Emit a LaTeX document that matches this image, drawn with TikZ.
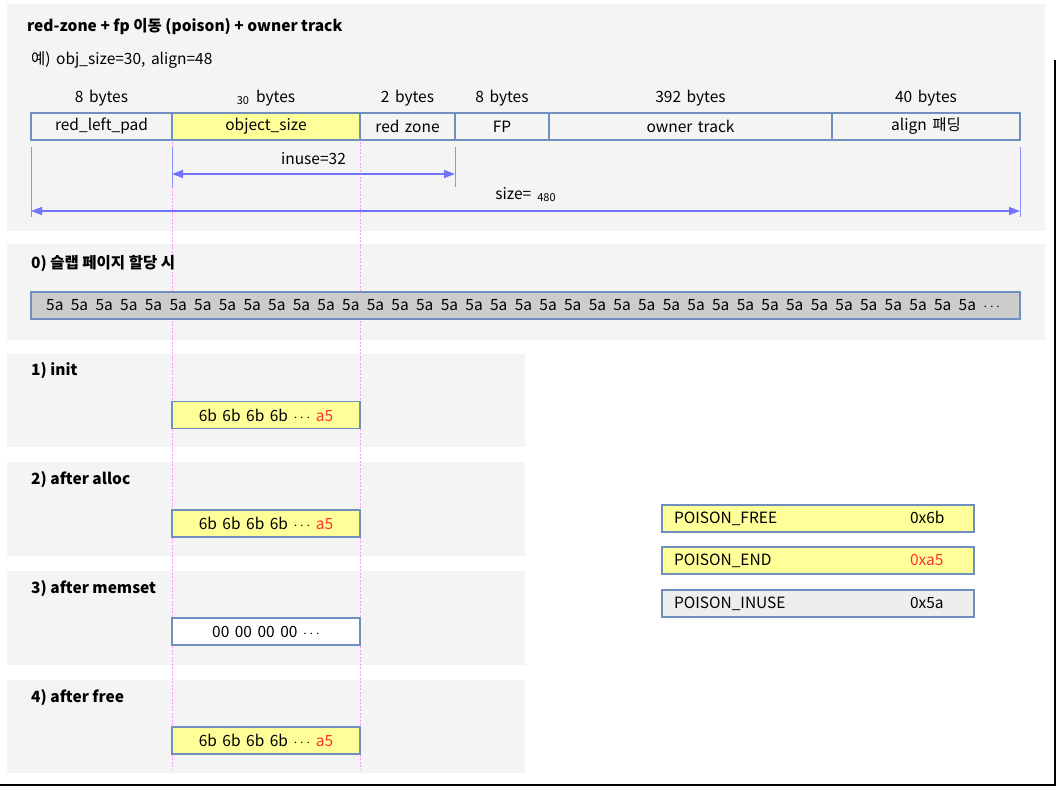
\documentclass[tikz,border=0pt]{standalone}
\usepackage{fontspec}
\setmainfont{Noto Sans CJK KR}
\usetikzlibrary{arrows.meta,positioning}

\definecolor{panelgray}{HTML}{F4F4F4}
\definecolor{cellblue}{HTML}{6F8FBF}
\definecolor{poisonyel}{HTML}{FFFF99}
\definecolor{bargray}{HTML}{CCCCCC}
\definecolor{legendgray}{HTML}{EEEEEE}
\definecolor{dimblue}{HTML}{7373FF}
\definecolor{guidepink}{HTML}{FF99FF}
\definecolor{endred}{HTML}{FF3333}

\newcommand{\mdots}{\ensuremath{\cdots}}
\newcommand{\widespace}{\spaceskip=5.5pt plus 1pt minus 1pt\relax}

\tikzset{
	cell/.style={draw=cellblue,line width=1.3pt,minimum height=27pt,inner sep=0pt,outer sep=0pt,font=\fontsize{15.5}{17}\selectfont\widespace},
	headline/.style={anchor=west,inner sep=0pt,font=\bfseries\fontsize{15.5}{18}\selectfont},
	plain/.style={inner sep=0pt,text=black,font=\fontsize{15.5}{17}\selectfont\widespace},
	ext/.style={dimblue!80,line width=0.9pt},
	dim/.style={dimblue,line width=1.4pt,{Triangle[length=11pt,width=8pt]}-{Triangle[length=11pt,width=8pt]}},
	guide/.style={guidepink,line width=0.8pt,dash pattern=on 2pt off 1.5pt},
	legend/.style={cell,anchor=west,minimum width=312pt,text width=288pt,align=left,inner xsep=12pt},
}

\begin{document}
\begin{tikzpicture}[x=1pt,y=-1pt]
	\useasboundingbox (0,0) rectangle (1056,786);
	
	% background panels
	\fill[panelgray](7,4)rectangle(1045,231);
	\fill[panelgray](7,244)rectangle(1045,340);
	\fill[panelgray](7,354)rectangle(525,447);
	\fill[panelgray](7,462)rectangle(525,556);
	\fill[panelgray](7,571)rectangle(525,665);
	\fill[panelgray](7,680)rectangle(525,773);
	
	% layout of one object
	\node[headline] (ttl) at (27,27) {red-zone + fp 이동 (poison) + owner track};
	\node[plain,anchor=west] (ex) at (31,60) {예) obj\_size=30, align=48};
	
	\node[cell,minimum width=141pt] (pad) at (101.5,126.5) {red\_left\_pad};
	\node[cell,fill=poisonyel,minimum width=188pt,right=0pt of pad] (obj) {object\_size};
	\node[cell,minimum width=95pt,right=0pt of obj] (rz) {red zone};
	\node[cell,minimum width=94pt,right=0pt of rz] (fp) {FP};
	\node[cell,minimum width=283pt,right=0pt of fp] (own) {owner track};
	\node[cell,minimum width=188pt,right=0pt of own] (aln) {align 패딩};
	
	\node[plain] (padb) at ([yshift=28pt]pad.center) {8 bytes};
	\node[plain] (objb) at ([yshift=28pt]obj.center) {{\fontsize{11}{12}\selectfont\raisebox{-2pt}{30}}\hspace{7pt}bytes};
	\node[plain] (rzb) at ([yshift=28pt]rz.center) {2 bytes};
	\node[plain] (fpb) at ([yshift=28pt]fp.center) {8 bytes};
	\node[plain] (ownb) at ([yshift=28pt]own.center) {392 bytes};
	\node[plain] (alnb) at ([yshift=28pt]aln.center) {40 bytes};
	
	% pink guides through object_size
	\draw[guide]([yshift=-2pt]obj.south west)--(obj.west|-0,770);
	\draw[guide]([yshift=-2pt]obj.south east)--(obj.east|-0,770);
	
	% dimension lines
	\draw[ext]([yshift=-7pt]pad.south west)--++(0,70);
	\draw[ext]([yshift=-7pt]obj.south west)--++(0,40);
	\draw[ext]([yshift=-7pt]fp.south west)--++(0,40);
	\draw[ext]([yshift=-7pt]aln.south east)--++(0,70);
	
	\coordinate (inuseL) at ([yshift=-34pt]obj.south west);
	\coordinate (inuseR) at ([yshift=-34pt]fp.south west);
	\coordinate (sizeL) at ([yshift=-71pt]pad.south west);
	\coordinate (sizeR) at ([yshift=-71pt]aln.south east);
	\draw[dim](inuseL)--(inuseR) node[plain,midway,above=9pt] (inuse) {inuse=32};
	\draw[dim](sizeL)--(sizeR) node[plain,midway,above=9pt] (size) {size=\hspace{6pt}{\fontsize{11}{12}\selectfont\raisebox{-2pt}{480}}};
	
	% 0) slab page
	\node[headline] (s0) at (31,264) {0) 슬랩 페이지 할당 시};
	\node[cell,fill=bargray,minimum width=989pt,anchor=west] (slab) at (31,305.5) {};
	\node[plain,anchor=west] (slabtxt) at (46,305.5) {\spaceskip=0pt plus 1fil\relax\hbox to 954pt{5a 5a 5a 5a 5a 5a 5a 5a 5a 5a 5a 5a 5a 5a 5a 5a 5a 5a 5a 5a 5a 5a 5a 5a 5a 5a 5a 5a 5a 5a 5a 5a 5a 5a 5a 5a 5a 5a \mdots}};
	
	% 1) - 4) states of the object
	\node[headline] (s1) at (31,371) {1) init};
	\node[cell,fill=poisonyel,minimum width=188pt] (b1) at (266,415) {6b 6b 6b 6b \mdots{} \textcolor{endred}{a5}};
	
	\node[headline] (s2) at (31,480) {2) after alloc};
	\node[cell,fill=poisonyel,minimum width=188pt] (b2) at (266,523.5) {6b 6b 6b 6b \mdots{} \textcolor{endred}{a5}};
	
	\node[headline] (s3) at (31,589) {3) after memset};
	\node[cell,fill=white,minimum width=188pt] (b3) at (266,631.5) {00 00 00 00 \mdots};
	
	\node[headline] (s4) at (31,698) {4) after free};
	\node[cell,fill=poisonyel,minimum width=188pt] (b4) at (266,740.5) {6b 6b 6b 6b \mdots{} \textcolor{endred}{a5}};
	
	% poison values
	\node[legend,fill=poisonyel] (pfree) at (662,518.5) {\makebox[236pt][l]{POISON\_FREE}0x6b};
	\node[legend,fill=poisonyel] (pend) at (662,560.5) {\makebox[236pt][l]{POISON\_END}\textcolor{endred}{0xa5}};
	\node[legend,fill=legendgray] (pinuse) at (662,603.5) {\makebox[236pt][l]{POISON\_INUSE}0x5a};
	
	% frame edge
	\draw[line width=2pt](1055,60)--(1055,785)--(0,785);
\end{tikzpicture}
\end{document}
